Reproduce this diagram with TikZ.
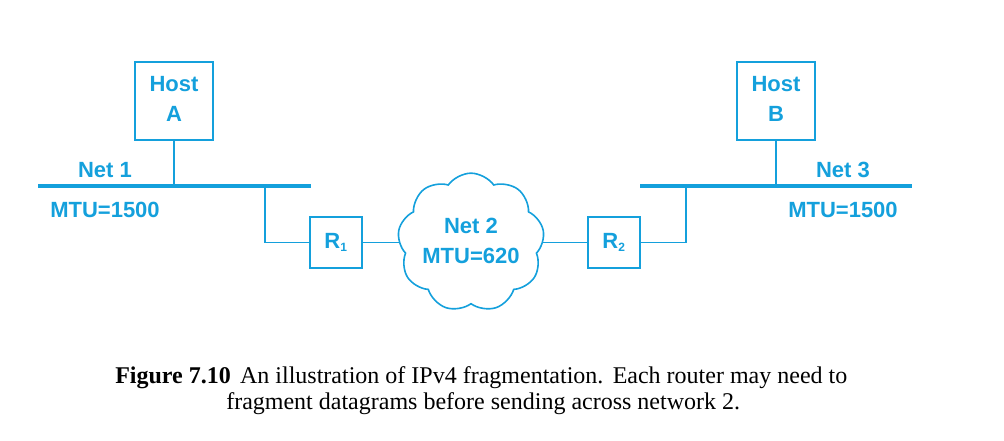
\documentclass[tikz,border=0pt]{standalone}
\usepackage{fontspec}
\setmainfont{Liberation Serif}
\newfontfamily\diag{Liberation Sans}
\usetikzlibrary{shapes.symbols}
\definecolor{netblue}{RGB}{20,160,220}
\begin{document}
\begin{tikzpicture}[x=0.75pt,y=-0.75pt,
  ln/.style={draw=netblue,line width=1.2pt},
  bus/.style={draw=netblue,line width=2.6pt},
  box/.style={draw=netblue,line width=1.2pt,inner sep=0pt},
  lbl/.style={text=netblue,font=\diag\fontsize{16.5}{19}\selectfont\bfseries,align=center}]
\useasboundingbox (0,0) rectangle (1004,440);
% hosts
\node[box,minimum width=58.5pt,minimum height=58.5pt] (ha) at (174,101) {};
\node[lbl] (hat) at (174,99) {Host\\[3pt]A};
\node[box,minimum width=58.5pt,minimum height=58.5pt] (hb) at (776,101) {};
\node[lbl] (hbt) at (776,99) {Host\\[3pt]B};
% buses
\coordinate (n1a) at (38,186); \coordinate (n1b) at (311,186);
\coordinate (n3a) at (640,186); \coordinate (n3b) at (912,186);
\draw[bus] (n1a) -- (n1b);
\draw[bus] (n3a) -- (n3b);
\coordinate (ta) at (174,186); \coordinate (tb) at (776,186);
\draw[ln] (ha.south) -- (ta);
\draw[ln] (hb.south) -- (tb);
\node[lbl] (n1) at (105,170) {Net 1};
\node[lbl] (m1) at (105,210) {MTU=1500};
\node[lbl] (n3) at (843,170) {Net 3};
\node[lbl] (m3) at (843,210) {MTU=1500};
% routers
\node[box,minimum width=39pt,minimum height=38.25pt] (r1) at (336,242.5) {};
\node[lbl] (r1t) at (336,242.5) {R\textsubscript{\fontsize{9}{10}\selectfont 1}};
\node[box,minimum width=39pt,minimum height=38.25pt] (r2) at (614,242.5) {};
\node[lbl] (r2t) at (614,242.5) {R\textsubscript{\fontsize{9}{10}\selectfont 2}};
% cloud
\node[cloud,cloud puffs=9,cloud puff arc=110,aspect=1.05,draw=netblue,line width=1.2pt,
  minimum width=110pt,minimum height=104pt,inner sep=0pt] (c) at (471,242.5) {};
\node[lbl] (ct) at (471,241) {Net 2\\[4pt]MTU=620};
% connectors
\coordinate (d1) at (265,186); \coordinate (d2) at (686,186);
\draw[ln] (d1) |- (r1.west);
\draw[ln] (d2) |- (r2.east);
\draw[ln] (r1.east) -- (r1.east -| c.west);
\draw[ln] (r2.west) -- (r2.west -| c.east);
% caption
\node[anchor=base west,inner sep=0pt,font=\fontsize{18}{20}\selectfont] (cap1) at (115,383)
  {\textbf{Figure 7.10}\hspace{7pt}An illustration of IPv4 fragmentation.\hspace{7pt}Each router may need to};
\node[anchor=base west,inner sep=0pt,font=\fontsize{18}{20}\selectfont] (cap2) at (226,409)
  {fragment datagrams before sending across network 2.};
\end{tikzpicture}
\end{document}
